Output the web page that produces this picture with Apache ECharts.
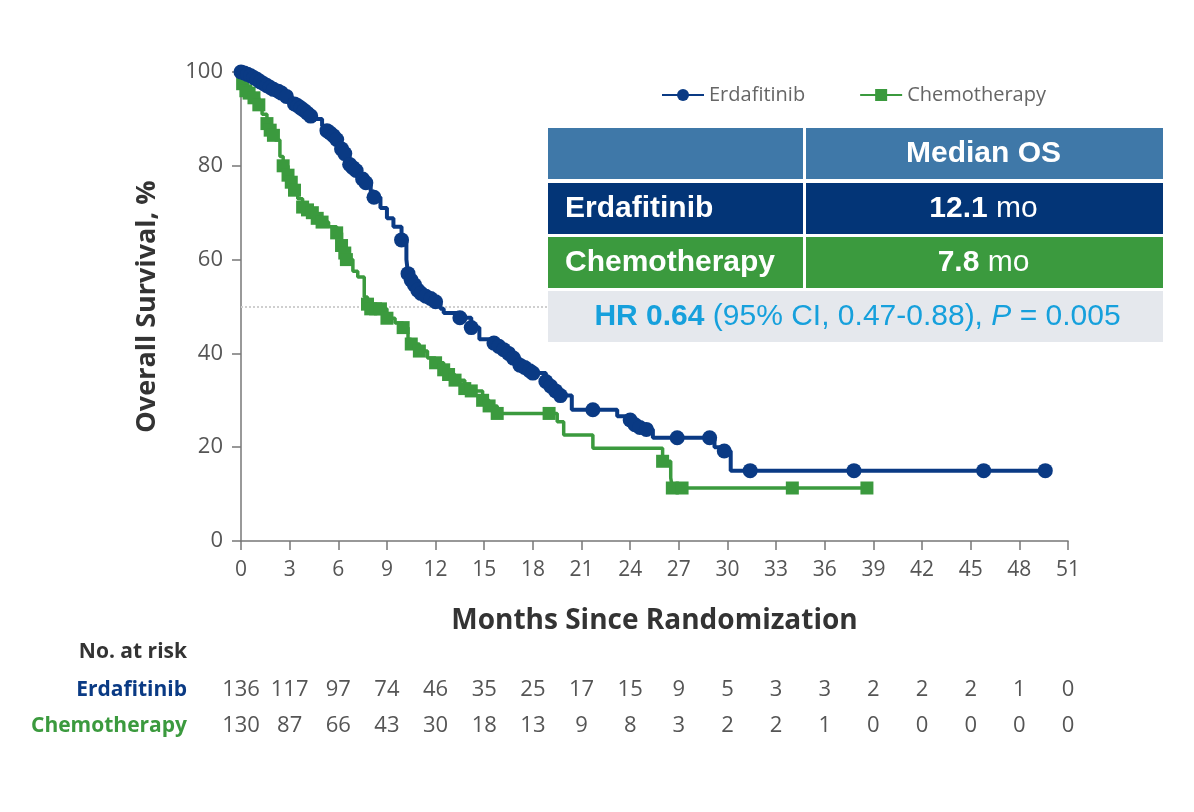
<!DOCTYPE html>
<html>
<head>
<meta charset="utf-8">
<script src="https://cdn.jsdelivr.net/npm/echarts@6/dist/echarts.min.js"></script>
<style>
  html, body { margin: 0; padding: 0; background: #fff; }
  #main { width: 1194px; height: 812px; }
</style>
</head>
<body>
<div id="main"></div>
<script>
// month, survival %, censored (1 = censor mark)
const erdaCurve = [
  [0, 100, 1], [0.2, 99.8, 1], [0.4, 99.5, 1], [0.6, 99.2, 1], [0.8, 98.8, 1], [1.0, 98.4, 1],
  [1.2, 97.9, 1], [1.4, 97.5, 1], [1.6, 97.1, 1], [1.8, 96.7, 1], [2.0, 96.3, 1], [2.3, 95.9, 1],
  [2.5, 95.5, 1], [2.8, 94.8, 1], [3.1, 94, 0], [3.3, 93.2, 1], [3.5, 92.8, 1], [3.7, 92.3, 1],
  [3.9, 91.8, 1], [4.1, 91.2, 1], [4.3, 90.6, 1], [4.6, 90, 0], [5.0, 88.5, 0], [5.3, 87.5, 1],
  [5.5, 87, 1], [5.7, 86.4, 1], [5.9, 85.6, 1], [6.0, 85, 0], [6.2, 83.6, 1], [6.4, 82.6, 1],
  [6.5, 82, 0], [6.7, 80.3, 1], [6.9, 79.6, 1], [7.1, 79, 1], [7.3, 78, 0], [7.5, 77.2, 1],
  [7.7, 76.4, 1], [8.0, 74.5, 0], [8.2, 73.3, 1], [8.6, 71, 0], [9.0, 68.8, 0], [9.4, 67, 0],
  [9.9, 64.2, 1], [10.2, 60, 0], [10.3, 57, 1], [10.5, 55.6, 1], [10.7, 54.6, 1], [10.9, 53.5, 1],
  [11.1, 52.8, 1], [11.4, 52.2, 1], [11.7, 51.7, 1], [12.0, 51, 1], [12.3, 49.5, 0], [12.5, 48.6, 0],
  [13.5, 47.6, 1], [14.2, 45.5, 1], [14.7, 43, 0], [15.6, 42.2, 1], [15.9, 41.5, 1], [16.2, 40.8, 1],
  [16.5, 40, 1], [16.8, 39, 1], [17.2, 37.5, 1], [17.5, 37, 1], [17.8, 36.3, 1], [18.0, 35.8, 1],
  [18.8, 34, 1], [19.1, 33, 1], [19.4, 32, 1], [19.7, 31, 1], [20.4, 28, 0], [21.7, 28, 1],
  [23.2, 26.6, 0], [24.0, 25.8, 1], [24.3, 24.8, 1], [24.6, 24.2, 1], [25.0, 23.8, 1], [25.4, 22, 0],
  [26.9, 22, 1], [28.9, 22, 1], [29.2, 20, 0], [29.8, 19.2, 1], [30.2, 15, 0],
  [31.4, 15, 1], [37.8, 15, 1], [45.8, 15, 1], [49.6, 15, 1]
]
const chemoCurve = [
  [0, 100, 0], [0.1, 97.5, 1], [0.3, 96, 1], [0.5, 95.5, 1], [0.8, 94.5, 1], [1.1, 93, 1],
  [1.3, 91, 0], [1.6, 89, 1], [1.8, 87.6, 1], [2.0, 86.5, 1], [2.1, 85.5, 0], [2.4, 82, 0],
  [2.6, 80, 1], [2.9, 78, 1], [3.1, 76.5, 1], [3.3, 74.8, 1], [3.5, 73, 0], [3.8, 71.2, 1],
  [4.1, 70.6, 1], [4.4, 70, 1], [4.7, 68.8, 1], [5.0, 68, 1], [5.4, 67, 0], [5.9, 65.7, 1],
  [6.2, 63, 1], [6.4, 61.4, 1], [6.5, 60, 1], [6.9, 57.5, 0], [7.2, 56.3, 0], [7.6, 52, 0],
  [7.8, 50.5, 1], [8.0, 49.5, 1], [8.3, 49.5, 1], [8.6, 49.5, 1], [9.0, 47.5, 1], [9.5, 46.5, 0],
  [10.0, 45.5, 1], [10.3, 43, 0], [10.5, 42, 1], [11.0, 40.5, 1], [11.5, 39, 0], [12.0, 38, 1],
  [12.5, 36.5, 1], [12.8, 35.5, 1], [13.2, 34.3, 1], [13.8, 32.5, 1], [14.2, 32, 1], [14.9, 30, 1],
  [15.3, 28.8, 1], [15.8, 27.2, 1], [19.0, 27.2, 1], [19.5, 25.4, 0], [19.9, 22.6, 0], [21.7, 19.8, 0],
  [26.0, 17, 1], [26.5, 13.5, 0], [26.6, 11.3, 1], [27.2, 11.3, 1], [34.0, 11.3, 1], [38.6, 11.3, 1]
]
const riskErda = [136, 117, 97, 74, 46, 35, 25, 17, 15, 9, 5, 3, 3, 2, 2, 2, 1, 0]
const riskChemo = [130, 87, 66, 43, 30, 18, 13, 9, 8, 3, 2, 2, 1, 0, 0, 0, 0, 0]
const armNames = ['Erdafitinib', 'Chemotherapy']
const medianOS = ['12.1', '7.8']
const hrParts = ['HR 0.64', ' (95% CI, 0.47-0.88), ', 'P', ' = 0.005']

const NAVY = '#0a3a84'
const GREEN = '#3b9a3e'
const AXIS_FONT = "'Open Sans', sans-serif"
const TABLE_FONT = "'Liberation Sans', Arial, sans-serif"

function riskAxis(values, offset) {
  return {
    type: 'value', gridIndex: 0, position: 'bottom', offset: offset,
    min: 0, max: 51, interval: 3,
    axisLine: { show: false }, axisTick: { show: false }, splitLine: { show: false },
    axisLabel: {
      margin: 13, fontSize: 22, color: '#555', fontFamily: AXIS_FONT,
      formatter: v => String(values[Math.round(v / 3)])
    }
  }
}

// table drawn with graphic elements
const tLeft = 548, tMid = 804, tRight = 1163
const rowTops = [128, 183, 237, 291], rowH = 51
const tableGraphic = []
tableGraphic.push({ type: 'rect', shape: { x: tLeft, y: rowTops[0], width: tMid - tLeft - 1, height: rowH }, style: { fill: '#3f78a8' } })
tableGraphic.push({ type: 'rect', shape: { x: tMid + 2, y: rowTops[0], width: tRight - tMid - 2, height: rowH }, style: { fill: '#3f78a8' } })
tableGraphic.push({ type: 'text', x: (tMid + tRight) / 2, y: rowTops[0] + rowH / 2, style: { text: 'Median OS', fill: '#fff', font: 'bold 30px ' + TABLE_FONT, align: 'center', verticalAlign: 'middle' } })
armNames.forEach((name, i) => {
  const y = rowTops[i + 1]
  const fill = i === 0 ? '#033577' : GREEN
  tableGraphic.push({ type: 'rect', shape: { x: tLeft, y: y, width: tMid - tLeft - 1, height: rowH }, style: { fill: fill } })
  tableGraphic.push({ type: 'rect', shape: { x: tMid + 2, y: y, width: tRight - tMid - 2, height: rowH }, style: { fill: fill } })
  tableGraphic.push({ type: 'text', x: tLeft + 17, y: y + rowH / 2, style: { text: name, fill: '#fff', font: 'bold 30px ' + TABLE_FONT, verticalAlign: 'middle' } })
  tableGraphic.push({
    type: 'text', x: (tMid + tRight) / 2, y: y + rowH / 2,
    style: {
      text: '{b|' + medianOS[i] + '}{r| mo}', align: 'center', verticalAlign: 'middle',
      rich: {
        b: { fill: '#fff', fontSize: 30, fontWeight: 'bold', fontFamily: TABLE_FONT },
        r: { fill: '#fff', fontSize: 30, fontFamily: TABLE_FONT }
      }
    }
  })
})
tableGraphic.push({ type: 'rect', shape: { x: tLeft, y: rowTops[3], width: tRight - tLeft, height: rowH }, style: { fill: '#e5e8ed' } })
tableGraphic.push({
  type: 'text', x: (tLeft + tRight) / 2 + 2, y: rowTops[3] + rowH / 2,
  style: {
    text: '{b|' + hrParts[0] + '}{r|' + hrParts[1] + '}{i|' + hrParts[2] + '}{r|' + hrParts[3] + '}',
    align: 'center', verticalAlign: 'middle',
    rich: {
      b: { fill: '#16a0dc', fontSize: 30, fontWeight: 'bold', fontFamily: TABLE_FONT },
      r: { fill: '#16a0dc', fontSize: 30, fontFamily: TABLE_FONT },
      i: { fill: '#16a0dc', fontSize: 30, fontStyle: 'italic', fontFamily: TABLE_FONT }
    }
  }
})
tableGraphic.forEach(g => { g.z = 100 })

const riskLabels = [
  { text: 'No. at risk', y: 652, color: '#333' },
  { text: armNames[0], y: 690, color: NAVY },
  { text: armNames[1], y: 726, color: GREEN }
].map(r => ({
  type: 'text', x: 187, y: r.y,
  style: { text: r.text, fill: r.color, font: 'bold 21px ' + AXIS_FONT, align: 'right', verticalAlign: 'middle' }
}))

const chart = echarts.init(document.getElementById('main'))
chart.setOption({
  animation: false,
  backgroundColor: '#fff',
  grid: { left: 241, right: 126, top: 72, bottom: 271, containLabel: false },
  legend: {
    data: armNames, left: 656, top: 80, itemWidth: 42, itemHeight: 15, itemGap: 54,
    textStyle: { color: '#666', fontSize: 20, fontFamily: AXIS_FONT }
  },
  xAxis: [
    {
      type: 'value', min: 0, max: 51, interval: 3,
      name: 'Months Since Randomization', nameLocation: 'middle', nameGap: 66,
      nameTextStyle: { fontSize: 28, fontWeight: 'bold', color: '#333', fontFamily: AXIS_FONT },
      axisLine: { lineStyle: { color: '#777', width: 1.5 } },
      axisTick: { length: 9, lineStyle: { color: '#777', width: 1.5 } },
      axisLabel: { margin: 19, fontSize: 21, color: '#555', fontFamily: AXIS_FONT },
      splitLine: { show: false }
    },
    riskAxis(riskErda, 125),
    riskAxis(riskChemo, 161)
  ],
  yAxis: {
    type: 'value', min: 0, max: 100, interval: 20,
    name: 'Overall Survival, %', nameLocation: 'middle', nameGap: 80,
    nameTextStyle: { fontSize: 27, fontWeight: 'bold', color: '#333', fontFamily: AXIS_FONT },
    axisLine: { show: true, lineStyle: { color: '#777', width: 1.5 } },
    axisTick: { show: true, length: 9, lineStyle: { color: '#777', width: 1.5 } },
    axisLabel: { margin: 18, fontSize: 22, color: '#555', fontFamily: AXIS_FONT },
    splitLine: { show: false }
  },
  graphic: tableGraphic.concat(riskLabels),
  series: [
    {
      name: armNames[1], type: 'line', step: 'end', data: chemoCurve,
      encode: { x: 0, y: 1 },
      symbol: 'rect', symbolSize: v => (v[2] ? 13 : 0), showSymbol: true,
      lineStyle: { color: GREEN, width: 3.5 }, itemStyle: { color: GREEN },
      z: 3
    },
    {
      name: armNames[0], type: 'line', step: 'end', data: erdaCurve,
      encode: { x: 0, y: 1 },
      symbol: 'circle', symbolSize: v => (v[2] ? 15 : 0), showSymbol: true,
      lineStyle: { color: NAVY, width: 4 }, itemStyle: { color: NAVY },
      z: 4,
      markLine: {
        silent: true, symbol: 'none', label: { show: false },
        lineStyle: { color: '#cfcfcf', type: 'dotted', width: 2 },
        data: [{ yAxis: 50 }],
        z: 1
      }
    }
  ]
})
</script>
</body>
</html>
